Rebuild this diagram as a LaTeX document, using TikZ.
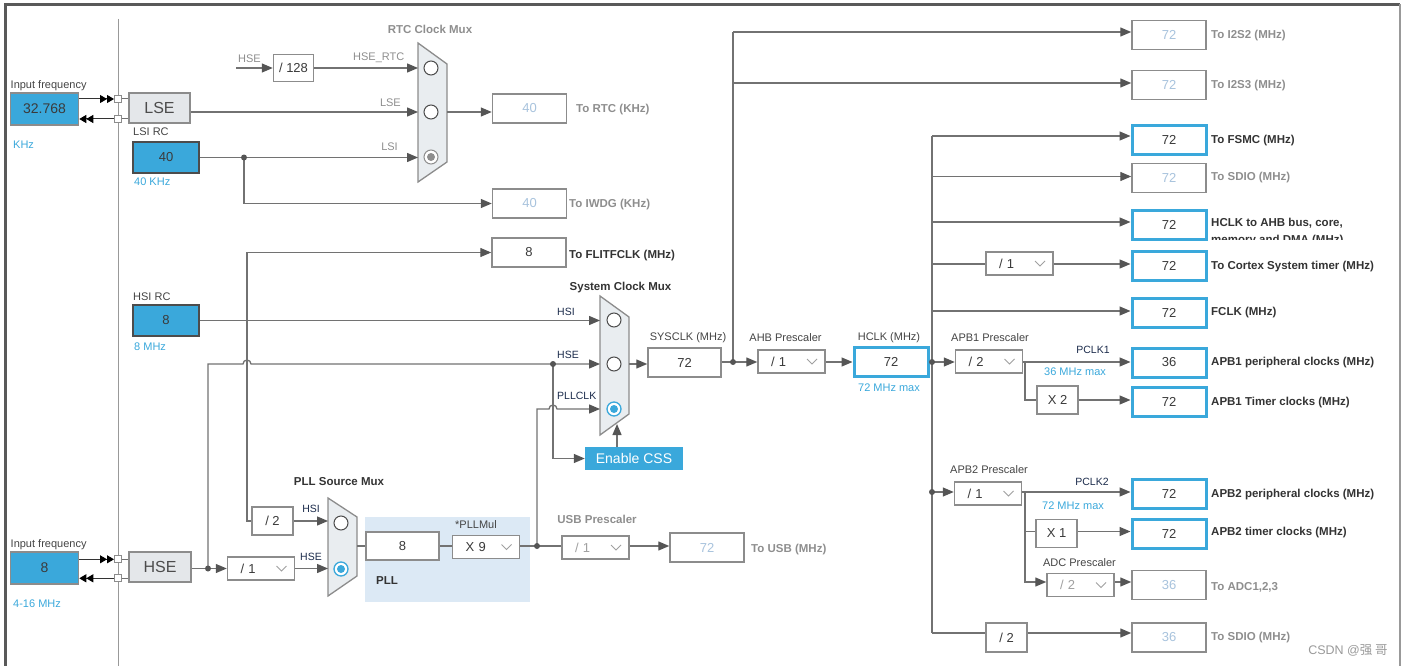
\documentclass[tikz,border=0pt]{standalone}
\usepackage{fontspec}
\setmainfont{Liberation Sans}
\newfontfamily\cjkf{Noto Sans CJK SC}
\usetikzlibrary{arrows.meta,calc}
\definecolor{lc}{HTML}{727272}
\definecolor{tipc}{HTML}{555555}
\definecolor{bc}{HTML}{8C8C8C}
\definecolor{blu}{HTML}{3AA8DB}
\definecolor{vt}{HTML}{3A3A3A}
\definecolor{lt}{HTML}{A8C3DD}
\definecolor{gl}{HTML}{8E8E8E}
\definecolor{nav}{HTML}{1B2B4B}
\definecolor{muxf}{HTML}{E9EDF0}
\definecolor{pllf}{HTML}{DCE9F5}
\definecolor{lsef}{HTML}{E4E7EA}
\definecolor{dk}{HTML}{444444}
\definecolor{cvc}{HTML}{A0A0A0}
\begin{document}
\begin{tikzpicture}[x=1pt,y=-1pt,
  ln/.style={draw=lc,line width=1.3pt},
  ar/.style={ln,-{Triangle[length=11pt,width=9pt,color=tipc]}},
  dar/.style={draw=black!80,line width=1pt,-{Triangle[length=7pt,width=8pt,color=black]Triangle[length=7pt,width=8pt,color=black]}},
  box/.style={draw=bc,line width=1.5pt,fill=white,inner sep=0pt,font=\fontsize{13}{15}\selectfont,text=vt},
  outbox/.style={box,minimum width=74pt,minimum height=29pt},
  actbox/.style={outbox,draw=blu,line width=3pt},
  offbox/.style={outbox,text=lt},
  ddbox/.style={box,minimum height=23pt,inner xsep=13pt,text width=41pt,align=left,
    path picture={\draw[cvc,line width=1pt] ($(path picture bounding box.east)+(-18pt,2.5pt)$) -- ++(5pt,-5pt) -- ++(5pt,5pt);}},
  ddoff/.style={ddbox,text=cvc},
  sq/.style={draw=bc,fill=white,line width=1pt,minimum size=7pt,inner sep=0pt},
  inbox/.style={draw=bc,fill=blu,line width=1.5pt,minimum width=68pt,minimum height=32pt,inner sep=0pt,font=\fontsize{14}{16}\selectfont,text=vt},
  rcbox/.style={draw=black!70,fill=blu,line width=1.5pt,minimum width=66pt,minimum height=31pt,inner sep=0pt,font=\fontsize{13}{15}\selectfont,text=vt},
  lsebox/.style={draw=bc,fill=lsef,line width=1.5pt,minimum width=61pt,minimum height=30pt,inner sep=0pt,font=\fontsize{16}{18}\selectfont,text=black!70},
  cssbox/.style={fill=blu,text=white,minimum width=98pt,minimum height=23pt,inner sep=0pt,font=\fontsize{14}{16}\selectfont},
  mux/.style={fill=muxf,draw=bc,line width=1.3pt},
  circ/.style={circle,draw=black!70,fill=white,line width=1pt,minimum size=14pt,inner sep=0pt},
  selg/.style={circ,draw=gl,path picture={\fill[gl] (path picture bounding box.center) circle (4pt);}},
  selb/.style={circ,draw=blu,line width=1.3pt,path picture={\fill[blu] (path picture bounding box.center) circle (4pt);}},
  lbl/.style={inner sep=0pt,yshift=-1.5pt,font=\fontsize{11}{13}\selectfont,text=dk},
  blbl/.style={inner sep=0pt,yshift=-1.5pt,font=\bfseries\fontsize{11.5}{13}\selectfont,text=black!80},
  glbl/.style={blbl,text=gl},
  nlbl/.style={inner sep=0pt,yshift=-1pt,font=\fontsize{10.5}{12}\selectfont,text=nav},
  ulbl/.style={lbl,text=blu},
  dot/.style={fill=tipc}
]
\useasboundingbox (0,0) rectangle (1402,666);
% frame
\draw[draw=black!65,line width=3pt] (5.5,666) -- (5.5,4.5) -- (1400,4.5);
\draw[draw=black!40,line width=1.5pt] (1400,4.5) -- (1400,666);
\draw[draw=black!40,line width=1pt] (118,19) -- (118,666);

% ---------- LSE input ----------
\node[lbl,anchor=west] (inLL) at (10.5,84) {Input frequency};
\node[inbox] (inLSE) at (44.5,109) {32.768};
\node[ulbl,anchor=west] (inLU) at (13,143) {KHz};
\node[sq] (sqa) at (118,99) {};
\node[sq] (sqb) at (118,119) {};
\node[lsebox] (LSE) at (159.5,108) {LSE};
\draw[dar] (inLSE.east |- sqa) -- (sqa.west);
\draw[dar] (sqb.west) -- (inLSE.east |- sqb);
\draw[ln,line width=1pt] (sqa.east) -- (LSE.west |- sqa);
\draw[ln,line width=1pt] (sqb.east) -- (LSE.west |- sqb);

% ---------- LSI ----------
\node[lbl,anchor=west] (lsiL) at (133,130) {LSI RC};
\node[rcbox] (LSI) at (166,157.5) {40};
\node[ulbl,anchor=west] (lsiU) at (134,180) {40 KHz};

% ---------- RTC mux ----------
\filldraw[mux] (418,43) -- (447,64) -- (447,162) -- (418,182) -- cycle;
\coordinate (rA) at (418,68);
\coordinate (rB) at (418,112);
\coordinate (rC) at (418,157.5);
\coordinate (rO) at (447,112);
\node[circ] (rc1) at (431,68) {};
\node[circ] (rc2) at (431,112) {};
\node[selg] (rc3) at (431,157) {};
\node[glbl] (rtcT) at (430,28) {RTC Clock Mux};
\node[lbl,text=gl,anchor=west] (hseT) at (238,57) {HSE};
\coordinate (hseIn) at (236,68);
\node[box,minimum width=40pt,minimum height=27pt] (d128) at (293.5,68) {/ 128};
\draw[ar] (hseIn) -- (d128.west);
\draw[ar] (d128.east) -- (rA);
\node[lbl,text=gl,anchor=west] (hrtcT) at (353,56) {HSE\_RTC};
\draw[ar] (LSE.east |- rB) -- (rB);
\node[lbl,text=gl,anchor=east] (lseT) at (401,101) {LSE};
\coordinate (lsiJ) at (244,157.5);
\draw[ar] (LSI.east) -- (rC);
\node[lbl,text=gl,anchor=east] (lsiT) at (398,145) {LSI};
\node[offbox] (RTC) at (529.5,108.5) {40};
\draw[ar] (rO) -- (RTC.west |- rO);
\node[glbl,anchor=west] (rtcL) at (576,108) {To RTC (KHz)};
\node[offbox] (IWDG) at (529.5,203.5) {40};
\draw[ar] (lsiJ) |- (IWDG.west);
\fill[dot] (lsiJ) circle (3pt);
\node[glbl,anchor=west] (iwdgL) at (569,203) {To IWDG (KHz)};

% ---------- HSI ----------
\node[lbl,anchor=west] (hsiL) at (133,295) {HSI RC};
\node[rcbox] (HSI) at (166,320.5) {8};
\node[ulbl,anchor=west] (hsiU) at (134,345) {8 MHz};
\coordinate (hsiJ) at (247,320.5);
\node[outbox] (FLIT) at (529,252.5) {8};
\node[blbl,anchor=west] (flitL) at (569,254) {To FLITFCLK (MHz)};
\node[box,minimum width=41pt,minimum height=28pt] (div2) at (272.5,521) {/ 2};
\draw[ar] (hsiJ) |- (FLIT.west);
\draw[ln] (hsiJ) |- (div2.west);

% ---------- System clock mux ----------
\filldraw[mux] (600,296) -- (629,317) -- (629,414) -- (600,435) -- cycle;
\coordinate (sA) at (600,320.5);
\coordinate (sB) at (600,364);
\coordinate (sC) at (600,409);
\coordinate (sO) at (629,364);
\coordinate (sBot) at (617,424);
\node[circ] (sc1) at (614,320) {};
\node[circ] (sc2) at (614,364) {};
\node[selb] (sc3) at (614,409) {};
\node[blbl] (sysT) at (620.5,286) {System Clock Mux};
\draw[ar] (HSI.east) -- (sA);
\node[nlbl,anchor=west] (hsiT2) at (557,311) {HSI};
\coordinate (hseJ) at (208,568.5);
\coordinate (cssJ) at (553,364);
\coordinate (pllJ) at (537,546);
\node[cssbox] (CSS) at (634,458.5) {Enable CSS};
\draw[ar] (hseJ) |- ($(hsiJ|-sB)+(-4,0)$) arc[start angle=180,end angle=0,radius=4pt] -- (sB);
\draw[ar] (cssJ) |- (CSS.west);
\fill[dot] (cssJ) circle (3pt);
\node[nlbl,anchor=west] (hseT2) at (557,354) {HSE};
\draw[ar] (pllJ) |- ($(cssJ|-sC)+(-4,0)$) arc[start angle=180,end angle=0,radius=4pt] -- (sC);
\node[nlbl,anchor=west] (pllT2) at (557,395) {PLLCLK};
\draw[ar] (sBot|-CSS.north) -- (sBot);
\node[outbox,minimum width=73pt] (SYS) at (684.5,362.5) {72};
\draw[ar] (sO) -- (SYS.west|-sO);
\node[lbl] (sysL) at (688,336) {SYSCLK (MHz)};

% ---------- AHB ----------
\coordinate (sysJ) at (733,362);
\node[ddbox] (AHB) at (791.5,361.5) {/ 1};
\draw[ln] (SYS.east|-sysJ) -- (sysJ);
\draw[ar] (sysJ) -- (AHB.west|-sysJ);
\node[lbl] (ahbL) at (785.5,336) {AHB Prescaler};
\node[actbox] (HCLK) at (891,362) {72};
\draw[ar] (AHB.east|-sysJ) -- (HCLK.west|-sysJ);
\node[lbl] (hclkL) at (889,336) {HCLK (MHz)};
\node[ulbl] (hclkM) at (889,386.5) {72 MHz max};
% I2S
\coordinate (tI2) at (733,32);
\coordinate (tI3) at (733,83);
\node[offbox] (I2S2) at (1169,35) {72};
\node[offbox] (I2S3) at (1169,85) {72};
\draw[ln] (sysJ) -- (tI2);
\draw[ar] (tI2) -- (I2S2.west|-tI2);
\draw[ar] (tI3) -- (I2S3.west|-tI3);
\fill[dot] (sysJ) circle (3pt);
\node[glbl,anchor=west] (i2s2L) at (1211,34) {To I2S2 (MHz)};
\node[glbl,anchor=west] (i2s3L) at (1211,84) {To I2S3 (MHz)};

% ---------- HCLK bus ----------
\coordinate (bFSMC) at (932,136);
\coordinate (bSDIO) at (932,176.5);
\coordinate (bAHB) at (932,222);
\coordinate (bCTX) at (932,264);
\coordinate (bFCLK) at (932,311);
\coordinate (hclkJ) at (932,362);
\coordinate (apb2J) at (932,492);
\coordinate (bSD2) at (932,633);
\draw[ln] (bFSMC) -- (bSD2);
\draw[ln] (HCLK.east) -- (hclkJ);
\node[actbox] (FSMC) at (1169,140) {72};
\node[offbox] (SDIO) at (1169,178) {72};
\node[actbox] (HAHB) at (1169,225) {72};
\node[actbox] (CTX) at (1169,265.5) {72};
\node[actbox] (FCLK) at (1169,312.5) {72};
\node[ddbox] (CTXd) at (1019.5,263.5) {/ 1};
\draw[ar] (bFSMC) -- (FSMC.west|-bFSMC);
\draw[ar] (bSDIO) -- (SDIO.west|-bSDIO);
\draw[ar] (bAHB) -- (HAHB.west|-bAHB);
\draw[ln] (bCTX) -- (CTXd.west|-bCTX);
\draw[ar] (CTXd.east|-bCTX) -- (CTX.west|-bCTX);
\draw[ar] (bFCLK) -- (FCLK.west|-bFCLK);
\node[blbl,anchor=west] (fsmcL) at (1211,139) {To FSMC (MHz)};
\node[glbl,anchor=west] (sdioL) at (1211,176) {To SDIO (MHz)};
\begin{scope}
\clip (1205,205) rectangle (1400,239.5);
\node[blbl,anchor=north west,align=left,yshift=0pt,font=\bfseries\fontsize{11.5}{17}\selectfont] (hahbL) at (1211,216) {HCLK to AHB bus, core,\\memory and DMA (MHz)};
\end{scope}
\node[blbl,anchor=west] (ctxL) at (1211,265) {To Cortex System timer (MHz)};
\node[blbl,anchor=west] (fclkL) at (1211,311) {FCLK (MHz)};

% ---------- APB1 ----------
\node[ddbox] (APB1d) at (989,361.5) {/ 2};
\draw[ar] (hclkJ) -- (APB1d.west|-hclkJ);
\fill[dot] (hclkJ) circle (3pt);
\node[lbl] (apb1L) at (990,336) {APB1 Prescaler};
\node[actbox] (APB1p) at (1169,362.5) {36};
\draw[ar] (APB1d.east|-hclkJ) -- (APB1p.west|-hclkJ);
\coordinate (a1J) at (1025,362);
\node[box,minimum width=41pt,minimum height=28pt] (X2) at (1057.5,400) {X 2};
\draw[ln] (a1J) |- (X2.west);
\node[actbox] (APB1t) at (1169,401.5) {72};
\draw[ar] (X2.east) -- (APB1t.west|-X2.east);
\node[nlbl] (pclk1) at (1093,349) {PCLK1};
\node[ulbl] (m36) at (1075,370) {36 MHz max};
\node[blbl,anchor=west] (apb1pL) at (1211,361) {APB1 peripheral clocks (MHz)};
\node[blbl,anchor=west] (apb1tL) at (1211,401) {APB1 Timer clocks (MHz)};

% ---------- APB2 ----------
\node[ddbox] (APB2d) at (988,493.5) {/ 1};
\draw[ar] (apb2J) -- (APB2d.west|-apb2J);
\fill[dot] (apb2J) circle (3pt);
\node[lbl] (apb2L) at (989,468) {APB2 Prescaler};
\node[actbox] (APB2p) at (1169,494) {72};
\draw[ar] (APB2d.east|-apb2J) -- (APB2p.west|-apb2J);
\coordinate (a2J) at (1025,492);
\coordinate (x1c) at (1025,531.5);
\coordinate (a2B) at (1025,582);
\draw[ln] (a2J) -- (x1c);
\node[box,minimum width=41pt,minimum height=28pt] (X1) at (1056.5,533.5) {X 1};
\draw[ln] (x1c) -- (X1.west|-x1c);
\node[actbox] (APB2t) at (1169,534) {72};
\draw[ar] (X1.east|-x1c) -- (APB2t.west|-x1c);
\node[ddoff] (ADCd) at (1080.5,585) {/ 2};
\draw[ar] (x1c) -- (a2B) -- (ADCd.west|-a2B);
\node[offbox] (ADC) at (1169,585) {36};
\draw[ar] (ADCd.east|-a2B) -- (ADC.west|-a2B);
\node[nlbl] (pclk2) at (1092,481) {PCLK2};
\node[ulbl] (m72) at (1073,504) {72 MHz max};
\node[lbl] (adcL) at (1079.5,561) {ADC Prescaler};
\node[blbl,anchor=west] (apb2pL) at (1211,493) {APB2 peripheral clocks (MHz)};
\node[blbl,anchor=west] (apb2tL) at (1211,531) {APB2 timer clocks (MHz)};
\node[glbl,anchor=west] (adcOL) at (1211,586) {To ADC1,2,3};
% SDIO /2
\node[box,minimum width=41pt,minimum height=29pt] (D2) at (1006.5,637.5) {/ 2};
\node[offbox] (SD2) at (1169,637.5) {36};
\draw[ln] (bSD2) -- (D2.west|-bSD2);
\draw[ar] (D2.east|-bSD2) -- (SD2.west|-bSD2);
\node[glbl,anchor=west] (sd2L) at (1211,636) {To SDIO (MHz)};
\node[inner sep=0pt,text=black!40,font=\fontsize{12.5}{14}\selectfont] (csdn) at (1348,650) {CSDN @{\cjkf 强 哥}};

% ---------- HSE input ----------
\node[lbl,anchor=west] (inHL) at (10.5,543) {Input frequency};
\node[inbox] (inHSE) at (44.5,568) {8};
\node[ulbl,anchor=west] (inHU) at (13,602) {4-16 MHz};
\node[sq] (sqc) at (118,559.3) {};
\node[sq] (sqd) at (118,578.3) {};
\node[lsebox,minimum width=62pt] (HSE) at (160,567) {HSE};
\draw[dar] (inHSE.east |- sqc) -- (sqc.west);
\draw[dar] (sqd.west) -- (inHSE.east |- sqd);
\draw[ln,line width=1pt] (sqc.east) -- (HSE.west |- sqc);
\draw[ln,line width=1pt] (sqd.east) -- (HSE.west |- sqd);
\node[ddbox] (HD1) at (261,568.5) {/ 1};
\draw[ln] (HSE.east|-hseJ) -- (hseJ);
\draw[ar] (hseJ) -- (HD1.west);
\fill[dot] (hseJ) circle (3pt);

% ---------- PLL source mux ----------
\filldraw[mux] (328,498) -- (357,517) -- (357,576) -- (328,596) -- cycle;
\coordinate (pA) at (328,521);
\coordinate (pB) at (328,568.5);
\coordinate (pO) at (357,546);
\node[circ] (pc1) at (341,523) {};
\node[selb] (pc2) at (341,569) {};
\draw[ar] (div2.east) -- (pA);
\draw[ar] (HD1.east) -- (pB);
\node[nlbl] (hsiT3) at (311,508) {HSI};
\node[nlbl] (hseT3) at (311,556) {HSE};
\node[blbl] (pllT) at (339,480) {PLL Source Mux};

% ---------- PLL ----------
\node[fill=pllf,minimum width=165pt,minimum height=85pt,inner sep=0pt] (pllbg) at (447.5,559.5) {};
\node[outbox,minimum width=73pt,minimum height=28pt] (PLLin) at (402.5,546) {8};
\draw[ln] (pO) -- (PLLin.west|-pO);
\node[ddbox] (MUL) at (486,547) {X 9};
\draw[ln] (PLLin.east) -- (MUL.west|-PLLin.east);
\node[lbl] (mulL) at (476,523) {*PLLMul};
\node[blbl] (pllL) at (387,579) {PLL};
\node[ddoff] (USBd) at (595.5,547.5) {/ 1};
\node[offbox] (USB) at (707,547.5) {72};
\draw[ln] (MUL.east|-pllJ) -- (USBd.west|-pllJ);
\fill[dot] (pllJ) circle (3pt);
\draw[ar] (USBd.east|-pllJ) -- (USB.west|-pllJ);
\node[glbl] (usbL) at (597,518) {USB Prescaler};
\node[glbl,anchor=west] (usbOL) at (751,548) {To USB (MHz)};
\end{tikzpicture}
\end{document}
